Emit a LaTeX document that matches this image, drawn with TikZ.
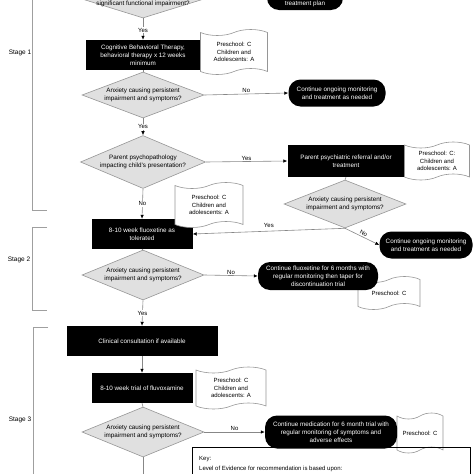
\documentclass[tikz,border=0pt]{standalone}
\usepackage{fontspec}
\setmainfont{Liberation Sans}
\usetikzlibrary{shapes.geometric,shapes.symbols,arrows.meta,positioning}
\definecolor{linegray}{RGB}{135,135,135}
\definecolor{diafill}{RGB}{224,224,224}
\definecolor{diaedge}{RGB}{150,150,150}
\tikzset{
    blackbox/.style={rectangle, fill=black, text=white, align=center, inner sep=1pt,
        font=\fontsize{6.3}{7.8}\selectfont},
    roundbox/.style={blackbox, rounded corners=12pt},
    decision/.style={diamond, fill=diafill, draw=diaedge, line width=0.6pt, align=center,
        inner sep=0pt, aspect=2.44, font=\fontsize{6.3}{7.8}\selectfont},
    evidence/.style={tape, draw=diaedge, fill=white, line width=0.6pt, align=center,
        inner sep=1pt, tape bend height=6pt, font=\fontsize{6}{7.4}\selectfont},
    conn/.style={draw=linegray, line width=0.6pt},
    arr/.style={conn, -{Latex[length=4pt,width=3.5pt,color=black]}},
    lbl/.style={font=\fontsize{6}{7}\selectfont, inner sep=1pt},
    stagelbl/.style={font=\fontsize{6.5}{8}\selectfont},
    bracketline/.style={draw=linegray!80, line width=0.7pt}
}
\begin{document}
\begin{tikzpicture}[x=1pt, y=-1pt]
    \useasboundingbox (0,0) rectangle (474,474);
    \clip (0,0) rectangle (474,474);

    % Top of the chart, cut off by the page.
    \node[decision, minimum width=180pt, minimum height=56pt] (q0) at (143,-10) {};
    \node[lbl, font=\fontsize{6.3}{7.8}\selectfont] (q0txt) at (143,4) {significant functional impairment?};
    \node[roundbox, minimum width=76pt, minimum height=32pt] (plan) at (305,-6) {};
    \node[lbl, text=white, font=\fontsize{6.3}{7.8}\selectfont] (plantxt) at (305,4) {treatment plan};

    % Stage 1.
    \node[blackbox, minimum width=115pt, minimum height=30pt] (cbt) at (143,55)
        {Cognitive Behavioral Therapy,\\behavioral therapy x 12 weeks\\minimum};
    \node[evidence, minimum width=67pt, minimum height=45pt] (ev1) at (234,52)
        {Preschool: C\\Children and\\Adolescents: A};
    \node[decision, minimum width=122pt, minimum height=46pt] (q1) at (143,95)
        {Anxiety causing persistent\\impairment and symptoms?};
    \node[roundbox, minimum width=97pt, minimum height=27pt] (mon1) at (337,93)
        {Continue ongoing monitoring\\and treatment as needed};
    \node[decision, minimum width=125pt, minimum height=53pt] (q2) at (143,162)
        {Parent psychopathology\\impacting child's presentation?};
    \node[blackbox, minimum width=117pt, minimum height=32pt] (par) at (346,161)
        {Parent psychiatric referral and/or\\treatment};
    \node[evidence, minimum width=65pt, minimum height=38pt] (ev2) at (437,161)
        {Preschool: C:\\Children and\\adolescents: A};
    \node[decision, minimum width=122pt, minimum height=48pt] (q3) at (345,204)
        {Anxiety causing persistent\\impairment and symptoms?};
    \node[roundbox, minimum width=93pt, minimum height=27pt] (mon2) at (426,245)
        {Continue ongoing monitoring\\and treatment as needed};

    % Stage 2.
    \node[blackbox, minimum width=101pt, minimum height=30pt] (flx) at (142,234)
        {8-10 week fluoxetine as\\tolerated};
    \node[evidence, minimum width=68pt, minimum height=45pt] (ev3) at (209,205)
        {Preschool: C\\Children and\\adolescents: A};
    \node[decision, minimum width=122pt, minimum height=50pt] (q4) at (143,275)
        {Anxiety causing persistent\\impairment and symptoms?};
    \node[evidence, minimum width=62pt, minimum height=33pt] (ev4) at (389,293) {Preschool: C};
    \node[roundbox, minimum width=120pt, minimum height=28pt] (cont1) at (318,276)
        {Continue fluoxetine for 6 months with\\regular monitoring then taper for\\discontinuation trial};

    % Stage 3.
    \node[blackbox, minimum width=151pt, minimum height=30pt] (cons) at (142,341)
        {Clinical consultation if available};
    \node[blackbox, minimum width=101pt, minimum height=30pt] (flv) at (142,388)
        {8-10 week trial of fluvoxamine};
    \node[evidence, minimum width=70pt, minimum height=42pt] (ev5) at (231,388)
        {Preschool: C\\Children and\\adolescents: A};
    \node[decision, minimum width=122pt, minimum height=50pt] (q5) at (143,432)
        {Anxiety causing persistent\\impairment and symptoms?};
    \node[evidence, minimum width=46pt, minimum height=40pt] (ev6) at (420,433) {Preschool: C};
    \node[roundbox, minimum width=132pt, minimum height=33pt] (cont2) at (331,432)
        {Continue medication for 6 month trial with\\regular monitoring of symptoms and\\adverse effects};

    % Key.
    \node[draw, line width=1.1pt, minimum width=278pt, minimum height=50pt, anchor=north west] (key) at (192,447) {};
    \node[lbl, anchor=west] (keyhead) at (198,459) {Key:};
    \node[lbl, anchor=west] (keyline) at (198,469) {Level of Evidence for recommendation is based upon:};

    % Stage brackets.
    \draw[bracketline] (32,-5) -- (32,210) -- (47,210);
    \draw[bracketline] (47,227) -- (32,227) -- (32,310) -- (47,310);
    \draw[bracketline] (48,327) -- (33,327) -- (33,480);
    \node[stagelbl] (stage1) at (20,53) {Stage 1};
    \node[stagelbl] (stage2) at (19,260) {Stage 2};
    \node[stagelbl] (stage3) at (20,420) {Stage 3};

    % Connectors.
    \draw[arr] (q0.south) -- node[lbl, fill=white, pos=0.55]{Yes} (cbt.north);
    \draw[conn] (cbt.south) -- (q1.north);
    \draw[arr] (q1.east) -- node[lbl, above]{No} (mon1.west);
    \draw[arr] (q1.south) -- node[lbl, fill=white]{Yes} (q2.north);
    \draw[arr] (q2.east) -- node[lbl, above]{Yes} (par.west);
    \draw[conn] (par.south) -- (q3.north);
    \draw[arr] (q3.south) -- node[lbl, above=2pt]{Yes} (flx.east);
    \draw[arr] (q3.south) -- node[lbl, sloped, above]{No} (mon2.west);
    \draw[arr] (q2.south) -- node[lbl, fill=white]{No} (flx.north);
    \draw[conn] (flx.south) -- (q4.north);
    \draw[arr] (q4.east) -- node[lbl, above]{No} (cont1.west);
    \draw[arr] (q4.south) -- node[lbl, fill=white]{Yes} (cons.north);
    \draw[arr] (cons.south) -- (flv.north);
    \draw[conn] (flv.south) -- (q5.north);
    \draw[arr] (q5.east) -- node[lbl, above]{No} (cont2.west);
    \coordinate (tail) at (143,480);
    \draw[conn] (q5.south) -- (tail);
\end{tikzpicture}
\end{document}
